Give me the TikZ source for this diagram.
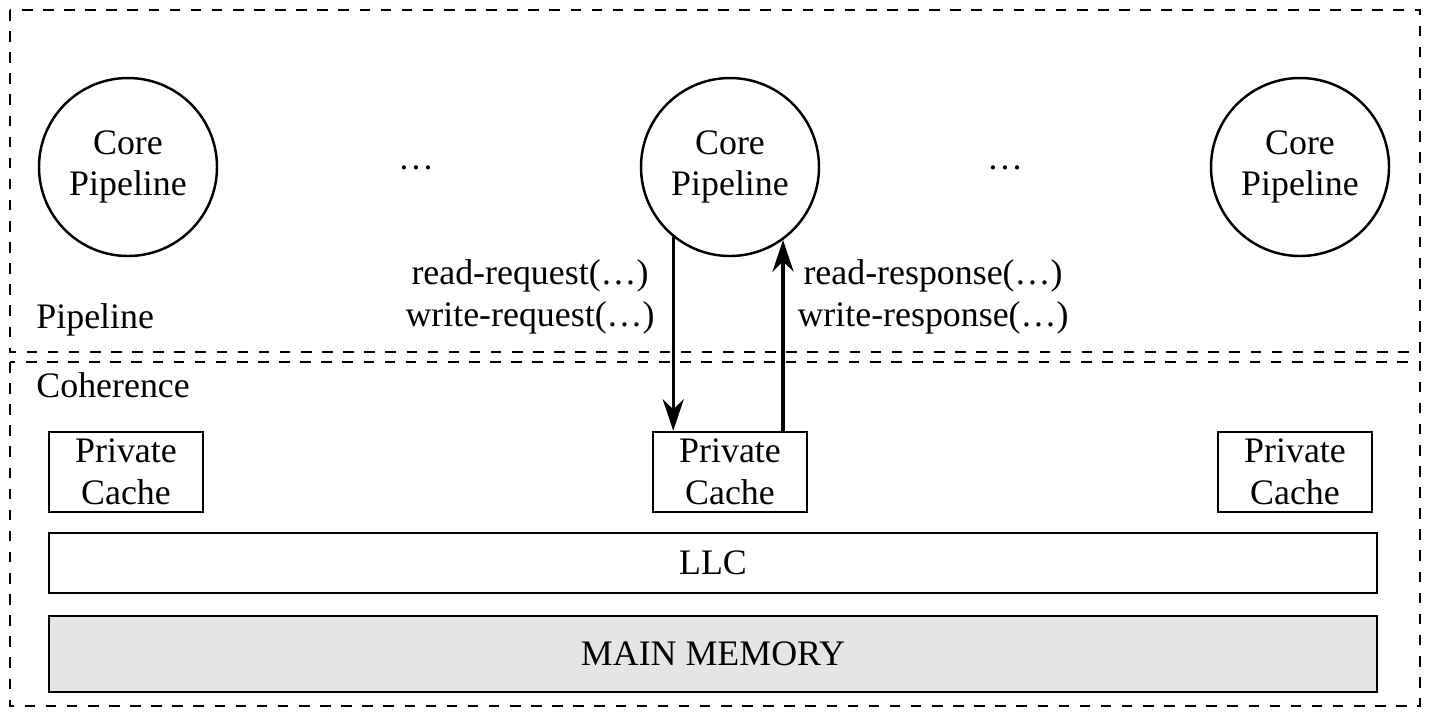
\documentclass[tikz,border=0pt]{standalone}
\usepackage{fontspec}
\setmainfont{Liberation Serif}
\usetikzlibrary{arrows.meta}
\begin{document}
\begin{tikzpicture}[x=0.01cm,y=-0.01cm,
  txt/.style={font=\fontsize{10.2}{11.9}\selectfont},
  core/.style={circle,draw,line width=0.7pt,minimum size=178*0.01cm,inner sep=0pt,align=center,txt},
  box/.style={draw,line width=0.7pt,inner sep=0pt,align=center,txt},
  reg/.style={draw,dashed,line width=0.6pt},
  arr/.style={line width=0.9pt,-{Stealth[length=9pt,width=6pt]}}]
\useasboundingbox (0,0) rectangle (1440,717);
\draw[reg] (10,10) rectangle (1420,352);
\draw[reg] (10,362) rectangle (1420,706);
\node[core] (c1) at (128,167) {Core\\Pipeline};
\node[core] (c2) at (730,167) {Core\\Pipeline};
\node[core] (c3) at (1300,167) {Core\\Pipeline};
\node[txt] (d1) at (416,168) {\dots};
\node[txt] (d2) at (1005,168) {\dots};
\node[txt,align=center] (l1) at (530,297) {read-request(\dots)\\write-request(\dots)};
\node[txt,align=center] (l2) at (933,297) {read-response(\dots)\\write-response(\dots)};
\node[txt,anchor=west] (pl) at (24,320) {Pipeline};
\node[txt,anchor=west] (co) at (24,385) {Coherence};
\node[box,minimum width=154*0.01cm,minimum height=80*0.01cm] (p1) at (126,472) {Private\\Cache};
\node[box,minimum width=154*0.01cm,minimum height=80*0.01cm] (p2) at (730,472) {Private\\Cache};
\node[box,minimum width=154*0.01cm,minimum height=80*0.01cm] (p3) at (1295,472) {Private\\Cache};
\node[box,minimum width=1328*0.01cm,minimum height=60*0.01cm] (llc) at (713,563) {LLC};
\node[box,fill=black!10,minimum width=1328*0.01cm,minimum height=76*0.01cm] (mm) at (713,654) {MAIN MEMORY};
\draw[arr] (c2.231) -- (c2.231 |- p2.north);
\draw[arr] (p2.north -| c2.306) -- (c2.306);
\end{tikzpicture}
\end{document}
